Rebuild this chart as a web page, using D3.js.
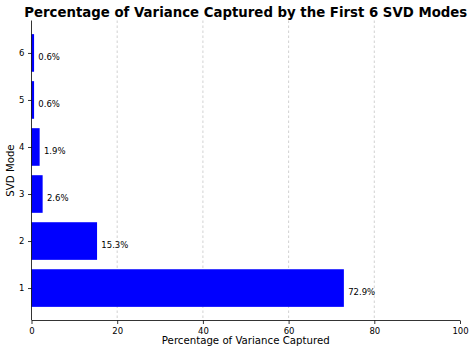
<!DOCTYPE html>
<html>
<head>
<meta charset="utf-8">
<script src="https://cdn.jsdelivr.net/npm/d3@7"></script>
<style>
  body { margin: 0; background: #fff; }
  text { font-family: "DejaVu Sans", sans-serif; fill: #000; }
</style>
</head>
<body>
<div id="chart-area"></div>
<script>
// data
const modes = [1, 2, 3, 4, 5, 6]
const variance = [72.9, 15.3, 2.6, 1.9, 0.6, 0.6]
const xTicks = [0, 20, 40, 60, 80, 100]

const MARGIN = { LEFT: 31.5, RIGHT: 14, TOP: 20.5, BOTTOM: 33.5 }
const WIDTH = 474 - MARGIN.LEFT - MARGIN.RIGHT
const HEIGHT = 354 - MARGIN.TOP - MARGIN.BOTTOM

const svg = d3.select('#chart-area')
	.append("svg")
	.attr("width", 474)
	.attr("height", 354)

const g = svg.append("g")
	.attr("transform", `translate(${MARGIN.LEFT}, ${MARGIN.TOP})`)

const x = d3.scaleLinear()
	.domain([0, 100])
	.range([0, WIDTH])

// matplotlib-like y limits: bars 0.8 tall, 5% margin
const y = d3.scaleLinear()
	.domain([0.31, 6.69])
	.range([HEIGHT, 0])

const barH = y(0) - y(0.8)

// grid
g.selectAll("line.grid")
	.data(xTicks.filter(t => t > 0 && t < 100))
	.enter().append("line")
	.attr("class", "grid")
	.attr("x1", d => x(d)).attr("x2", d => x(d))
	.attr("y1", 0).attr("y2", HEIGHT)
	.attr("stroke", "#b0b0b0")
	.attr("stroke-width", 0.8)
	.attr("stroke-dasharray", "2.5,2.5")
	.attr("opacity", 0.7)

// bars
g.selectAll("rect.bar")
	.data(modes)
	.enter().append("rect")
	.attr("class", "bar")
	.attr("x", x(0))
	.attr("y", (d, i) => y(d) - barH / 2)
	.attr("width", (d, i) => x(variance[i]) - x(0))
	.attr("height", barH)
	.attr("fill", "#0000ff")

// value labels
g.selectAll("text.val")
	.data(modes)
	.enter().append("text")
	.attr("class", "val")
	.attr("x", (d, i) => x(variance[i] + 1))
	.attr("y", d => y(d) + 4)
	.attr("dy", "0.35em")
	.style("font-size", "8.5px")
	.text((d, i) => variance[i].toFixed(1) + "%")

// axes
const xAxis = g.append("g")
	.attr("transform", `translate(0, ${HEIGHT})`)
	.call(d3.axisBottom(x).tickValues(xTicks).tickSize(3.5).tickPadding(3.5))
const yAxis = g.append("g")
	.call(d3.axisLeft(y).tickValues(modes).tickFormat(d3.format("d")).tickSize(3.5).tickPadding(3.5))

xAxis.select(".domain").attr("d", `M0.5,0H${WIDTH}`)
yAxis.select(".domain").attr("d", `M0,0V${HEIGHT}`)
svg.selectAll(".tick text").style("font-size", "8.5px").attr("fill", "#000")
svg.selectAll(".domain, .tick line").attr("stroke", "#000").attr("stroke-width", 0.8)

// labels
svg.append("text")
	.attr("x", MARGIN.LEFT + WIDTH / 2)
	.attr("y", 344)
	.style("text-anchor", "middle")
	.style("font-size", "10.2px")
	.text("Percentage of Variance Captured")

svg.append("text")
	.attr("transform", `translate(14, ${MARGIN.TOP + HEIGHT / 2}) rotate(-90)`)
	.style("text-anchor", "middle")
	.style("font-size", "10.2px")
	.text("SVD Mode")

svg.append("text")
	.attr("x", MARGIN.LEFT + WIDTH / 2)
	.attr("y", 17)
	.style("text-anchor", "middle")
	.style("font-size", "13.5px")
	.style("font-weight", "bold")
	.attr("textLength", 443)
	.attr("lengthAdjust", "spacingAndGlyphs")
	.text("Percentage of Variance Captured by the First 6 SVD Modes")
</script>
</body>
</html>
